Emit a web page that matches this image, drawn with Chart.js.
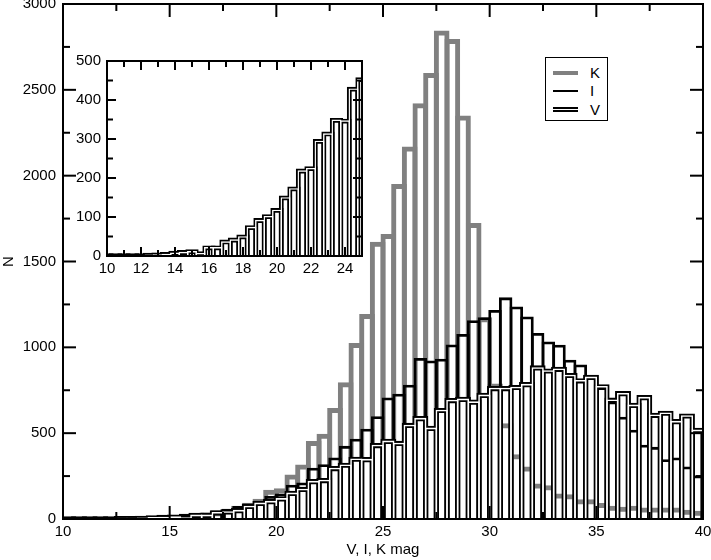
<!DOCTYPE html>
<html>
<head>
<meta charset="utf-8">
<script src="https://cdn.jsdelivr.net/npm/chart.js@4.4.1/dist/chart.umd.min.js"></script>
<style>
  html, body { margin: 0; padding: 0; background: #fff; }
  #wrap { position: relative; width: 711px; height: 560px; overflow: hidden; }
  #main { position: absolute; left: 0; top: 0; }
  #inset { position: absolute; left: 64px; top: 40px; }
  #legend { position: absolute; left: 545px; top: 57px; width: 63px; height: 64px; border: 1px solid #000;
            background: #fff; box-sizing: border-box; font: 15px "Liberation Sans", Arial, sans-serif; color: #000; }
  .row { position: absolute; left: 0; width: 100%; height: 18px; }
  .row .ln { position: absolute; left: 7px; width: 25px; }
  .row span { position: absolute; left: 44px; top: 0; line-height: 18px; }
</style>
</head>
<body>
<div id="wrap">
  <canvas id="main" width="711" height="560"></canvas>
  <canvas id="inset" width="305" height="245"></canvas>
  <div id="legend">
    <div class="row" style="top:6px"><div class="ln" style="top:7px;height:4px;background:#808080"></div><span>K</span></div>
    <div class="row" style="top:24px"><div class="ln" style="top:8px;height:2px;background:#000"></div><span>I</span></div>
    <div class="row" style="top:43px"><div class="ln" style="top:6px;height:0;border-top:5px double #000"></div><span>V</span></div>
  </div>
</div>
<script>
// histogram bins (left edge, mag), 0.5 mag wide
const binStart = [10, 10.5, 11, 11.5, 12, 12.5, 13, 13.5, 14, 14.5,
                  15, 15.5, 16, 16.5, 17, 17.5, 18, 18.5, 19, 19.5,
                  20, 20.5, 21, 21.5, 22, 22.5, 23, 23.5, 24, 24.5,
                  25, 25.5, 26, 26.5, 27, 27.5, 28, 28.5, 29, 29.5,
                  30, 30.5, 31, 31.5, 32, 32.5, 33, 33.5, 34, 34.5,
                  35, 35.5, 36, 36.5, 37, 37.5, 38, 38.5, 39, 39.5];

const kCounts = [0, 0, 0, 0, 0, 1, 1, 2, 3, 4,
                 6, 9, 14, 20, 30, 42, 62, 80, 103, 156,
                 165, 245, 303, 440, 482, 632, 782, 1010, 1180, 1600,
                 1645, 1937, 2155, 2408, 2583, 2831, 2781, 2336, 1710, 1160,
                 775, 543, 363, 291, 192, 182, 134, 130, 100, 100,
                 79, 62, 57, 62, 52, 52, 52, 52, 39, 33];

const iCounts = [2, 2, 2, 3, 3, 4, 8, 8, 10, 12,
                 15, 22, 26, 30, 42, 52, 68, 82, 95, 126,
                 140, 192, 205, 290, 311, 350, 418, 460, 518, 590,
                 700, 722, 774, 930, 915, 925, 1008, 1070, 1150, 1167,
                 1209, 1283, 1230, 1172, 1075, 1026, 1007, 920, 892, 830,
                 760, 677, 588, 512, 425, 412, 340, 350, 298, 246];

const vCounts = [1, 1, 1, 1, 1, 2, 3, 4, 7, 9,
                 11, 6, 21, 21, 36, 41, 49, 73, 91, 101,
                 117, 149, 172, 218, 224, 294, 313, 348, 346, 428,
                 452, 440, 545, 585, 528, 632, 690, 697, 681, 720,
                 760, 760, 766, 783, 880, 862, 872, 836, 805, 825,
                 770, 692, 730, 662, 707, 604, 616, 567, 600, 516];

const mainXTicks = [10, 15, 20, 25, 30, 35, 40];
const mainYTicks = [0, 500, 1000, 1500, 2000, 2500, 3000];
const insetXTicks = [10, 12, 14, 16, 18, 20, 22, 24];
const insetYTicks = [0, 100, 200, 300, 400, 500];

const FONT = '"Liberation Sans", Arial, Helvetica, sans-serif';

// frame + inward major/minor ticks on all four sides
const frameTicks = {
  id: 'frameTicks',
  afterDraw(chart, args, o) {
    const { ctx, chartArea: a } = chart;
    const xs = chart.scales.x, ys = chart.scales.y;
    const seg = (x1, y1, x2, y2) => { ctx.beginPath(); ctx.moveTo(x1, y1); ctx.lineTo(x2, y2); ctx.stroke(); };
    const mids = v => v.slice(1).map((t, i) => (t + v[i]) / 2);
    const xMaj = xs.ticks.map(t => t.value);
    const yMaj = ys.ticks.map(t => t.value);
    ctx.save();
    ctx.strokeStyle = '#000';
    ctx.lineWidth = o.lineWidth;
    for (const [vals, len] of [[xMaj, o.major], [mids(xMaj), o.minor]]) {
      for (const v of vals) {
        const p = xs.getPixelForValue(v);
        seg(p, a.bottom, p, a.bottom - len);
        seg(p, a.top, p, a.top + len);
      }
    }
    for (const [vals, len] of [[yMaj, o.major], [mids(yMaj), o.minor]]) {
      for (const v of vals) {
        const p = ys.getPixelForValue(v);
        seg(a.left, p, a.left + len, p);
        seg(a.right, p, a.right - len, p);
      }
    }
    ctx.strokeRect(a.left, a.top, a.right - a.left, a.bottom - a.top);
    ctx.restore();
  }
};

// outline-only bars, stroke centred on the bin edges via inflateAmount
function histSet(label, data, color, half, order) {
  return {
    type: 'bar', label, data, order,
    backgroundColor: 'rgba(0,0,0,0)',
    borderColor: color,
    borderWidth: 0.001,
    inflateAmount: half,
    borderSkipped: 'start',
    barPercentage: 1,
    categoryPercentage: 1,
    grouped: false,
    clip: 0
  };
}

const plain = v => String(v);

function axisY(ticks, width, pad) {
  return {
    type: 'linear', min: ticks[0], max: ticks[ticks.length - 1],
    afterBuildTicks: s => { s.ticks = ticks.map(v => ({ value: v })); },
    afterFit: s => { s.width = width; s.paddingTop = 0; s.paddingBottom = 0; },
    grid: { display: false, drawTicks: false },
    border: { display: false },
    ticks: { color: '#000', font: { family: FONT, size: 15 }, padding: pad, callback: plain }
  };
}

function axisX(ticks, min, max, height, pad) {
  return {
    type: 'linear', min, max, offset: false,
    afterBuildTicks: s => { s.ticks = ticks.map(v => ({ value: v })); },
    afterFit: s => { s.height = height; s.paddingLeft = 0; s.paddingRight = 0; },
    grid: { display: false, drawTicks: false, offset: false },
    border: { display: false },
    ticks: { color: '#000', font: { family: FONT, size: 15 }, padding: pad, maxRotation: 0, autoSkip: false, callback: plain }
  };
}

const mainPts = arr => arr.map((v, i) => ({ x: binStart[i] + 0.25, y: v }));

const mainX = axisX(mainXTicks, 10, 40, 41, 4);
mainX.title = { display: true, text: 'V, I, K mag', color: '#000', font: { family: FONT, size: 15 }, padding: { top: 0, bottom: 1 } };
const mainY = axisY(mainYTicks, 63, 7);
mainY.title = { display: true, text: 'N', color: '#000', font: { family: FONT, size: 15 }, padding: { top: 0, bottom: 0 } };

new Chart(document.getElementById('main'), {
  type: 'bar',
  data: {
    datasets: [
      histSet('K', mainPts(kCounts), '#808080', 2.5, 4),
      histSet('I', mainPts(iCounts), '#000', 1.4, 3),
      histSet('V', mainPts(vCounts), '#000', 2.6, 2),
      histSet('V', mainPts(vCounts), '#fff', 0.8, 1)
    ]
  },
  options: {
    responsive: false,
    animation: false,
    events: [],
    layout: { padding: { top: 4, right: 8, left: 0, bottom: 0 } },
    scales: { x: mainX, y: mainY },
    plugins: {
      legend: { display: false },
      tooltip: { enabled: false },
      frameTicks: { lineWidth: 2, major: 13, minor: 7 }
    }
  },
  plugins: [frameTicks]
});

// inset: V counts for the bright end, bars centred on the bin start
const insetPts = binStart.map((s, i) => ({ x: s, y: vCounts[i] })).filter(p => p.x <= 25);

new Chart(document.getElementById('inset'), {
  type: 'bar',
  data: {
    datasets: [
      histSet('V', insetPts, '#000', 2.4, 2),
      histSet('V', insetPts, '#fff', 0.7, 1)
    ]
  },
  options: {
    responsive: false,
    animation: false,
    events: [],
    layout: { padding: { top: 21, right: 7, left: 0, bottom: 0 } },
    scales: { x: axisX(insetXTicks, 10, 25, 29, 4), y: axisY(insetYTicks, 43, 6) },
    plugins: {
      legend: { display: false },
      tooltip: { enabled: false },
      frameTicks: { lineWidth: 2, major: 9, minor: 6 }
    }
  },
  plugins: [frameTicks]
});
</script>
</body>
</html>
